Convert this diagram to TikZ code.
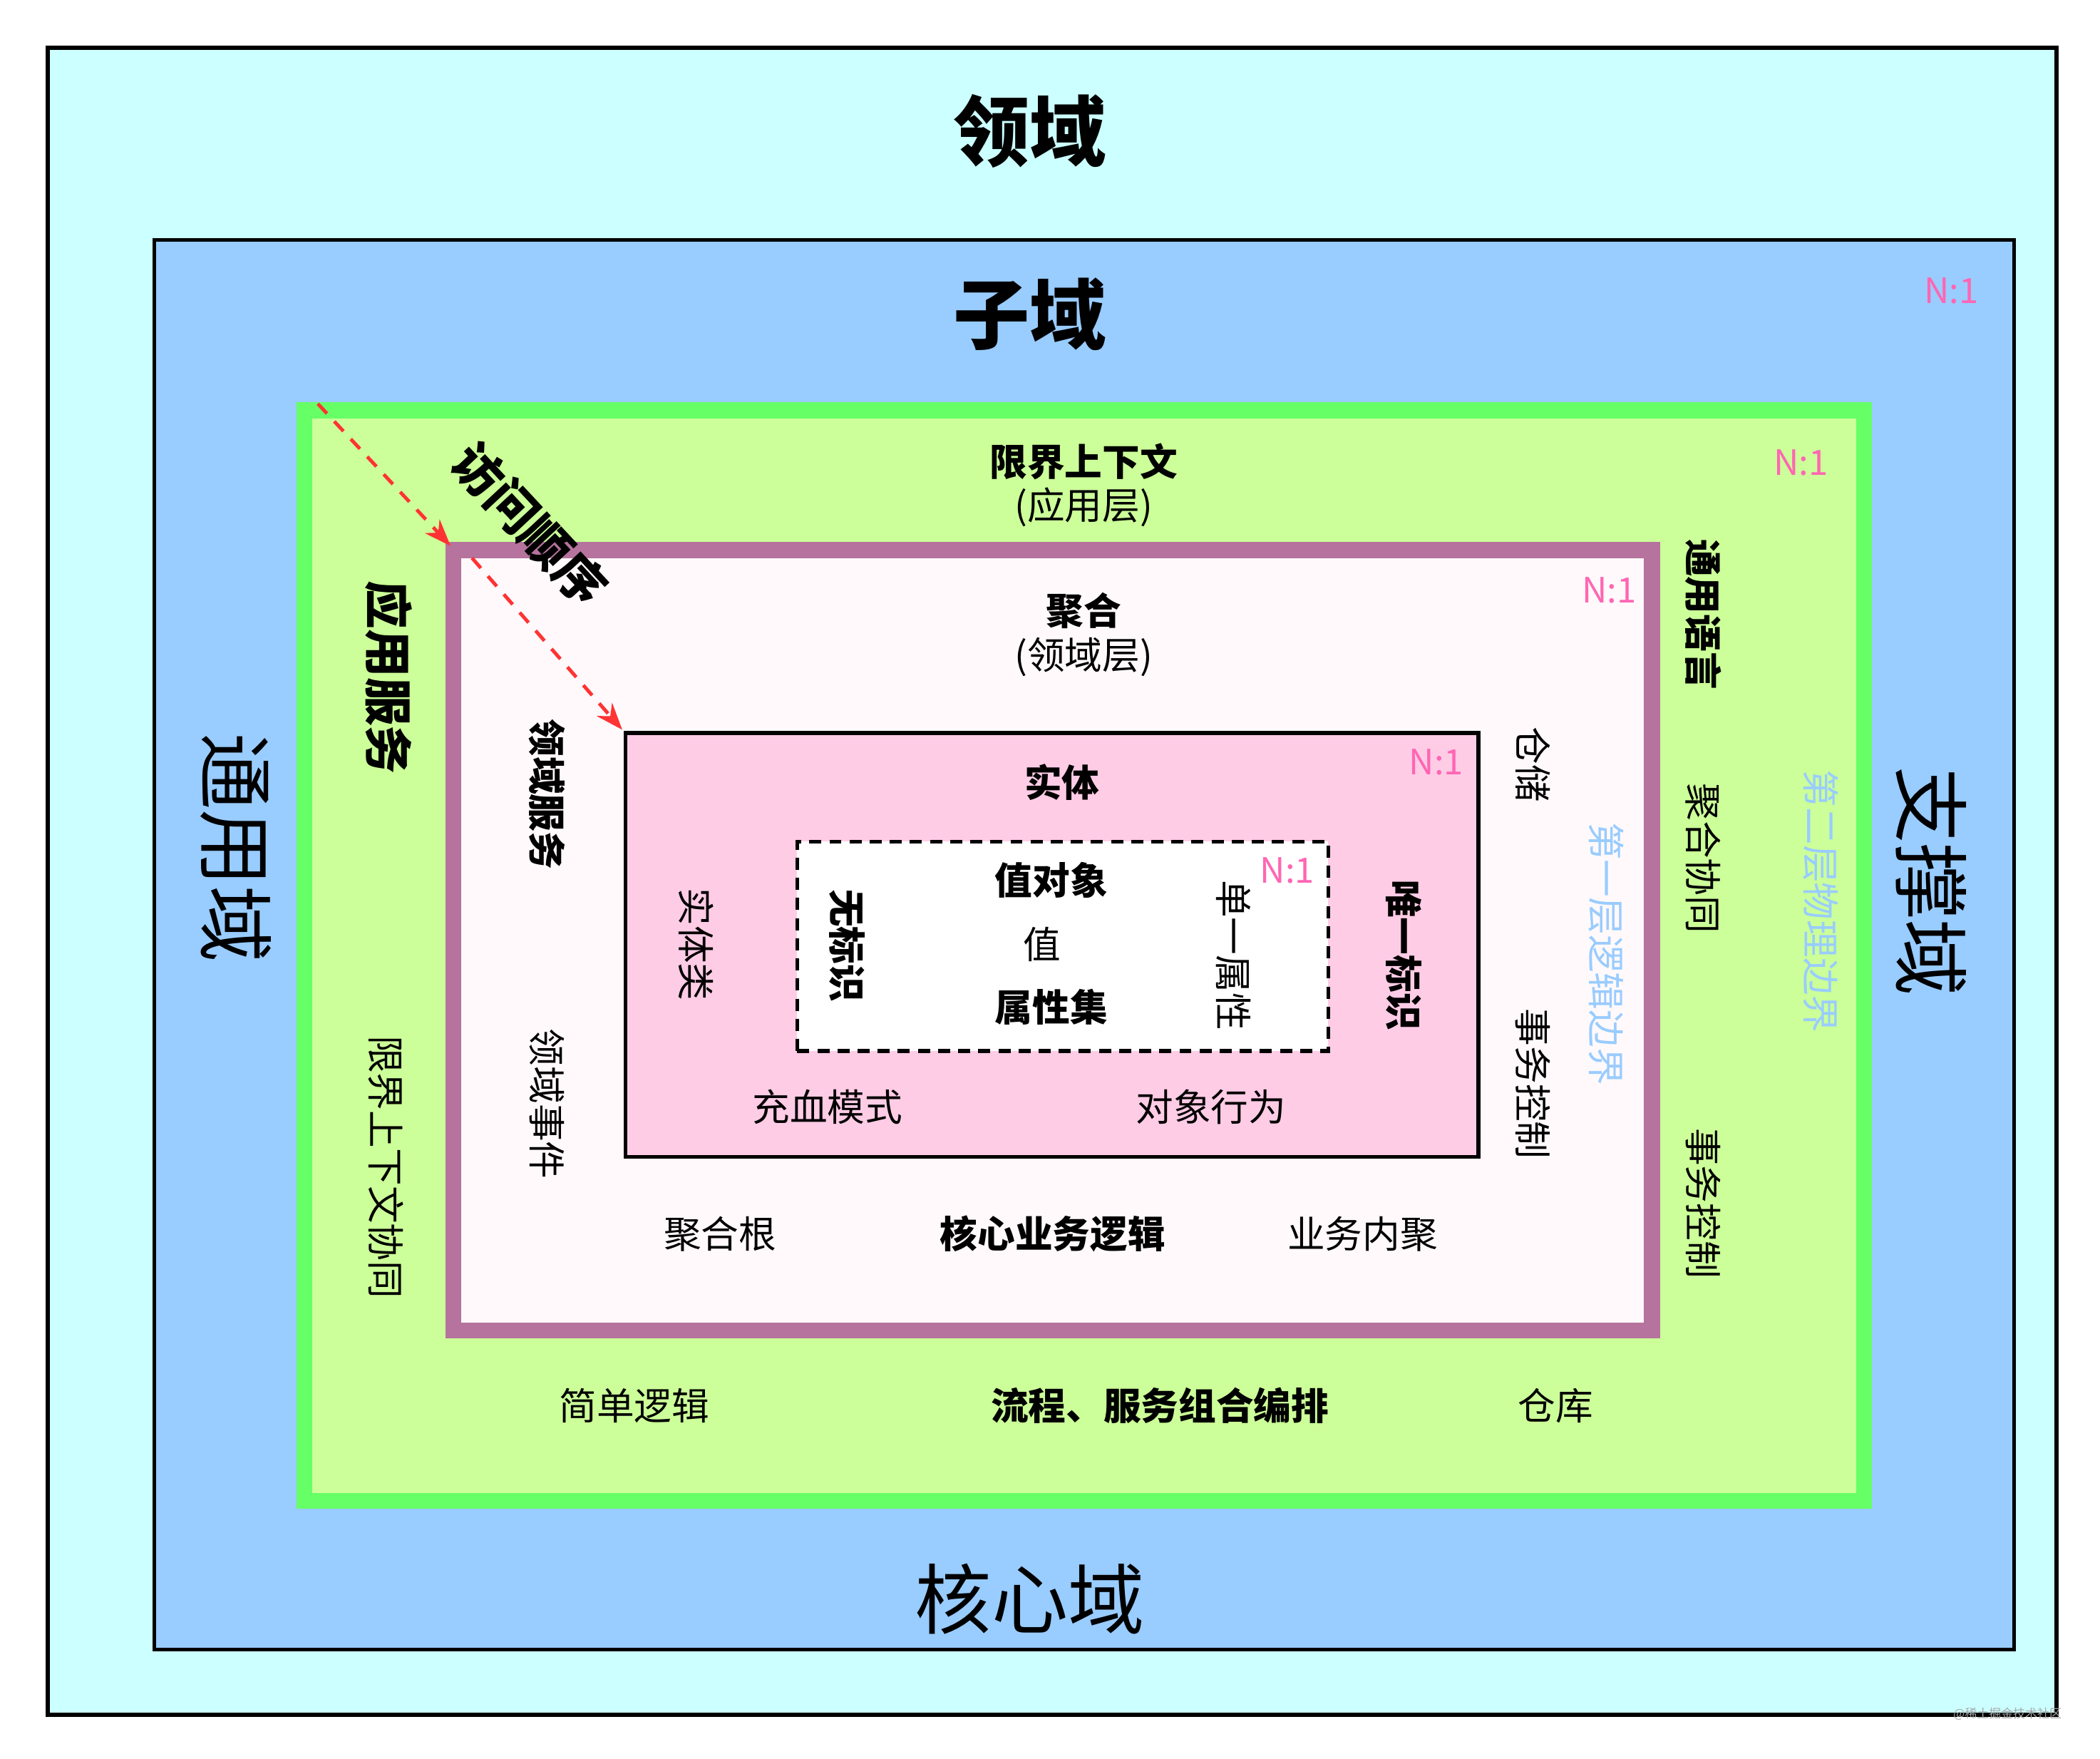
\documentclass[tikz,border=0pt]{standalone}
\usepackage{fontspec}
\setmainfont{Noto Sans CJK SC}
\usetikzlibrary{arrows.meta}
\definecolor{domfill}{HTML}{CCFFFF}
\definecolor{subfill}{HTML}{99CCFF}
\definecolor{bcfill}{HTML}{CCFF99}
\definecolor{bcline}{HTML}{66FF66}
\definecolor{aggline}{HTML}{B5739D}
\definecolor{aggfill}{HTML}{FFF9FB}
\definecolor{entfill}{HTML}{FFCCE6}
\definecolor{ratio}{HTML}{FF66B3}
\definecolor{bound}{HTML}{99CCFF}
\definecolor{arrowred}{HTML}{FF3333}
\begin{document}
\begin{tikzpicture}[x=1pt,y=-1pt,
  area/.style={rectangle,inner sep=0,outer sep=0},
  lbl/.style={inner sep=0,font=\fontsize{28}{30}\selectfont},
  lblb/.style={inner sep=0,font=\fontsize{28}{30}\selectfont\bfseries},
  big/.style={inner sep=0,font=\fontsize{57}{60}\selectfont},
  bigb/.style={inner sep=0,font=\fontsize{57}{60}\selectfont\bfseries},
  vert/.style={rotate=-90},
  ratiolbl/.style={inner sep=0,text=ratio,font=\fontsize{26}{28}\selectfont},
  boundlbl/.style={inner sep=0,text=bound,rotate=-90,font=\fontsize{28}{30}\selectfont},
  flow/.style={draw=arrowred,line width=2.6pt,dash pattern=on 10pt off 8pt,
    -{Stealth[length=20pt,width=15pt,fill=arrowred]}}
]
\useasboundingbox (0,0) rectangle (1566,1311);
% boxes
\node[area,draw=black,line width=3pt,fill=domfill,minimum width=1498pt,minimum height=1243pt] (dom) at (784.5,657) {};
\node[area,draw=black,line width=2.6pt,fill=subfill,minimum width=1387pt,minimum height=1051pt] (sub) at (808.5,704.5) {};
\node[area,draw=bcline,line width=12pt,fill=bcfill,minimum width=1163pt,minimum height=813pt] (bc) at (808.5,712.5) {};
\node[area,draw=aggline,line width=12pt,fill=aggfill,minimum width=894pt,minimum height=582pt] (agg) at (785,701) {};
\node[area,draw=black,line width=3pt,fill=entfill,minimum width=636pt,minimum height=316pt] (ent) at (784.5,704.5) {};
\node[area,draw=black,line width=3pt,dash pattern=on 9pt off 6pt,fill=white,minimum width=396pt,minimum height=156pt] (vo) at (792.5,705.5) {};

% domain / subdomain
\node[bigb] (tdom) at (768,98) {领域};
\node[bigb] (tsub) at (768,234) {子域};
\node[ratiolbl] (r1) at (1455,217) {N:1};
\node[big,vert] (tgen) at (176,632) {通用域};
\node[big,vert] (tsup) at (1440,657) {支撑域};
\node[big] (tcore) at (768,1192) {核心域};

% bounded context
\node[lblb] (tbc) at (808,344) {限界上下文};
\node[lbl] (tbc2) at (808,378) {(应用层)};
\node[ratiolbl] (r2) at (1343,345) {N:1};
\node[inner sep=0,font=\fontsize{36}{38}\selectfont\bfseries,vert] (tapp) at (290,505) {应用服务};
\node[lbl,vert] (tbccoop) at (288,870) {限界上下文协同};
\node[lblb,vert] (tlang) at (1270,458) {通用语言};
\node[lbl,vert] (taggco) at (1270,640) {聚合协同};
\node[lbl,vert] (ttx2) at (1270,897) {事务控制};
\node[boundlbl] (tb2) at (1358,672) {第二层物理边界};
\node[lbl] (tsimple) at (473,1048) {简单逻辑};
\node[lblb] (tflow) at (865,1048) {流程、服务组合编排};
\node[lbl] (trepo2) at (1160,1048) {仓库};

% aggregate
\node[lblb] (tagg) at (808,455) {聚合};
\node[lbl] (tagg2) at (808,490) {(领域层)};
\node[ratiolbl] (r3) at (1200,440) {N:1};
\node[lblb,vert] (tdsvc) at (408,592) {领域服务};
\node[lbl,vert] (tdevt) at (408,823) {领域事件};
\node[lbl,vert] (trepo) at (1143,570) {仓储};
\node[lbl,vert] (ttx1) at (1143,808) {事务控制};
\node[boundlbl] (tb1) at (1198,711) {第一层逻辑边界};
\node[lbl] (troot) at (537,920) {聚合根};
\node[lblb] (tcorelogic) at (785,920) {核心业务逻辑};
\node[lbl] (tcohesion) at (1016,920) {业务内聚};

% entity
\node[lblb] (tent) at (792,583) {实体};
\node[ratiolbl] (r4) at (1071,568) {N:1};
\node[lbl,vert] (tentcls) at (519,704) {实体类};
\node[lblb,vert] (tuid) at (1047,712) {唯一标识};
\node[lbl] (trich) at (617,825) {充血模式};
\node[lbl] (tbeh) at (903,825) {对象行为};

% value object
\node[lblb] (tvo) at (784,656) {值对象};
\node[lbl] (tval) at (777,704) {值};
\node[lblb] (tattrs) at (784,751) {属性集};
\node[ratiolbl] (r5) at (960,649) {N:1};
\node[lblb,vert] (tnoid) at (632,705) {无标识};
\node[lbl,vert] (tsingle) at (920,712) {单一属性};

% access order
\node[inner sep=0,font=\fontsize{37}{39}\selectfont\bfseries,rotate=-47] (tacc) at (395,391) {访问顺序};
\coordinate (a0) at (237,301);
\coordinate (a1) at (336,407);
\coordinate (a2) at (352,416);
\coordinate (a3) at (464,544);
\draw[flow] (a0) -- (a1);
\draw[flow] (a2) -- (a3);

% watermark
\node[inner sep=0,text=gray!70,font=\fontsize{9}{10}\selectfont] (wm) at (1497,1278) {@稀土掘金技术社区};
\end{tikzpicture}
\end{document}
